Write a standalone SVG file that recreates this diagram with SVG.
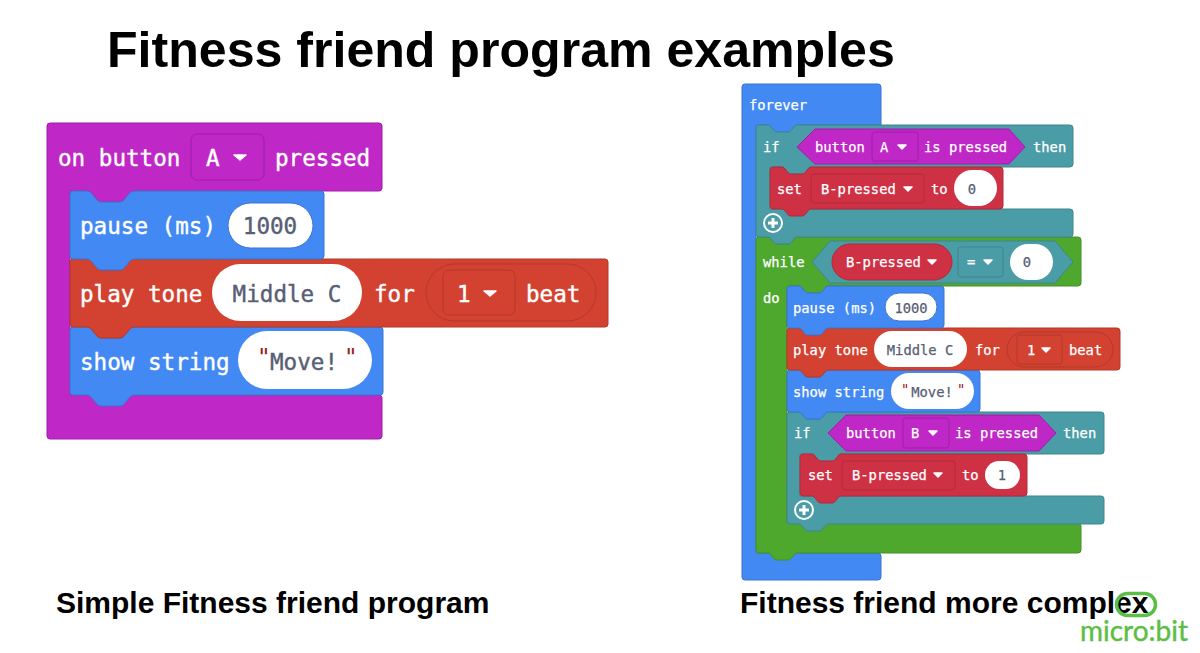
<svg xmlns="http://www.w3.org/2000/svg" width="1200" height="653" viewBox="0 0 1200 653">
<style>
.h{font-family:"Liberation Sans",Arial,sans-serif;font-weight:700;fill:#000}
.b text{font-family:"DejaVu Sans Mono",monospace;fill:#fff;stroke:#fff}
.big text{font-size:22.6px;stroke-width:.4}
.sm text{font-size:13.8px;stroke-width:.25}
.b text.v{fill:#575E75;stroke:#575E75;text-anchor:middle}
.b text.q{fill:#A31515;stroke:none}
.t{fill:#fff;stroke:#fff;stroke-linejoin:round;stroke-width:1.5}
.b path,.b rect,.b polygon{stroke-linejoin:round}
.pur{fill:#BF27C7;stroke:#A01FA8}
.blu{fill:#4389F4;stroke:#3A74CF}
.ora{fill:#D34230;stroke:#B33828}
.tea{fill:#4A9DA6;stroke:#3F858D}
.gre{fill:#4FA82E;stroke:#439027}
.red{fill:#CF3144;stroke:#B02A3A}
.pill{fill:#fff}
</style>
<rect width="1200" height="653" fill="#fff"/>
<text class="h" x="107" y="67" font-size="50.1">Fitness friend program examples</text>
<g id="left-program" class="b big">
<g id="hat-on-button">
<path class="pur" d="M50 123H379q3 0 3 3V188q0 3-3 3H134q-3 0-5 3l-4 5q-2 3-5 3h-19q-3 0-5-3l-4-5q-2-3-5-3H70V395H379q3 0 3 3V436q0 3-3 3H50q-3 0-3-3V126q0-3 3-3Z"/>
<rect class="pur" x="191" y="134" width="73" height="46" rx="6" style="stroke:#9C1FA4"/>
<text x="58" y="166">on button</text><text x="206" y="166">A</text>
<path class="t" d="M234 155h12l-6 5z"/><text x="275" y="166">pressed</text>
</g>
<g id="show-string">
<path class="blu" d="M73 327H87q3 0 5 3l4 5q2 3 5 3h19q3 0 5-3l4-5q2-3 5-3H380q3 0 3 3V392q0 3-3 3H134q-3 0-5 3l-4 5q-2 3-5 3h-19q-3 0-5-3l-4-5q-2-3-5-3H73q-3 0-3-3V330q0-3 3-3Z"/>
<rect class="pill" x="238" y="331" width="134" height="58" rx="29"/>
<text x="80" y="370">show string</text>
<text class="q" x="257" y="365" font-size="14">"</text>
<text class="v" x="304" y="370">Move!</text>
<text class="q" x="344" y="365" font-size="14">"</text>
</g>
<g id="play-tone">
<path class="ora" d="M73 259H87q3 0 5 3l4 5q2 3 5 3h19q3 0 5-3l4-5q2-3 5-3H605q3 0 3 3V324q0 3-3 3H134q-3 0-5 3l-4 5q-2 3-5 3h-19q-3 0-5-3l-4-5q-2-3-5-3H73q-3 0-3-3V262q0-3 3-3Z"/>
<rect class="pill" x="212" y="264" width="150" height="57" rx="28.5"/>
<rect x="426" y="264" width="170" height="57" rx="28.5" fill="none" stroke="#B33828"/>
<rect x="443" y="270" width="72" height="45" rx="6" fill="none" stroke="#B33828"/>
<text x="80" y="302">play tone</text><text class="v" x="287" y="302">Middle C</text>
<text x="374" y="302">for</text><text x="457" y="302">1</text>
<path class="t" d="M484 291h12l-6 5z"/><text x="526" y="302">beat</text>
</g>
<g id="pause">
<path class="blu" d="M73 191H87q3 0 5 3l4 5q2 3 5 3h19q3 0 5-3l4-5q2-3 5-3H321q3 0 3 3V256q0 3-3 3H134q-3 0-5 3l-4 5q-2 3-5 3h-19q-3 0-5-3l-4-5q-2-3-5-3H73q-3 0-3-3V194q0-3 3-3Z"/>
<rect class="pill" x="228" y="203" width="85" height="45" rx="22.5" stroke="#3A74CF"/>
<text x="80" y="234">pause (ms)</text><text class="v" x="270" y="234">1000</text>
</g>
</g>
<g id="right-program" class="b sm">
<g id="forever">
<path class="blu" d="M745 84H878q3 0 3 3V125H797q-2 0-3 2l-2.5 3q-1.5 2-3 2h-12q-2 0-3-2l-2.5-3q-1-2-3-2H756V553H878q3 0 3 3V577q0 3-3 3H745q-3 0-3-3V87q0-3 3-3Z"/>
<text x="749" y="110">forever</text>
</g>
<g id="while">
<path class="gre" d="M759 237H768q2 0 3 2l2.5 3q1.500 2 3 2h12q2 0 3-2l2.500-3q1-2 3-2H1078q3 0 3 3V283q0 3-3 3H828q-2 0-3 2l-2.500 3q-1.500 2-3 2h-12q-2 0-3-2l-2.500-3q-1-2-3-2H787V523H1078q3 0 3 3V550q0 3-3 3H797q-2 0-3 2l-2.500 3q-1.500 2-3 2h-12q-2 0-3-2l-2.500-3q-1-2-3-2H759q-3 0-3-3V240q0-3 3-3Z"/>
<polygon class="tea" points="812,262 830,241 1055,241 1073,262 1055,283 830,283"/>
<rect class="red" x="832" y="244" width="120" height="36" rx="18"/>
<rect class="tea" x="958" y="247" width="45" height="30" rx="3"/>
<rect class="pill" x="1010" y="244" width="43" height="36" rx="18"/>
<text x="763" y="267">while</text><text x="846" y="267">B-pressed</text>
<path class="t" d="M928 260h8l-4 4z"/>
<text x="967" y="267">=</text><path class="t" d="M984 260h8l-4 4z"/>
<text class="v" x="1027" y="267">0</text>
<text x="763" y="303">do</text>
</g>
<g id="if-b">
<path class="tea" d="M790 412H799q2 0 3 2l2.500 3q1.500 2 3 2h12q2 0 3-2l2.500-3q1-2 3-2H1101q3 0 3 3V451q0 3-3 3H841q-2 0-3 2l-2.500 3q-1.500 2-3 2h-12q-2 0-3-2l-2.500-3q-1-2-3-2H800V496H1101q3 0 3 3V521q0 3-3 3H828q-2 0-3 2l-2.500 3q-1.500 2-3 2h-12q-2 0-3-2l-2.500-3q-1-2-3-2H790q-3 0-3-3V415q0-3 3-3Z"/>
<polygon class="pur" points="828,433 846,415 1039,415 1056,433 1039,451 846,451"/>
<rect class="pur" x="903" y="418" width="46" height="30" rx="3"/>
<text x="794" y="438">if</text><text x="846" y="438">button</text><text x="911" y="438">B</text>
<path class="t" d="M929 431h8l-4 4z"/><text x="955" y="438">is pressed</text><text x="1063" y="438">then</text>
<circle cx="804" cy="510" r="9" fill="none" stroke="#fff" stroke-width="2"/>
<path d="M804 505v10M799 510h10" stroke="#fff" stroke-width="3" fill="none"/>
</g>
<g id="set-b">
<path class="red" d="M803 454H812q2 0 3 2l2.500 3q1.500 2 3 2h12q2 0 3-2l2.500-3q1-2 3-2H1024q3 0 3 3V493q0 3-3 3H841q-2 0-3 2l-2.500 3q-1.500 2-3 2h-12q-2 0-3-2l-2.500-3q-1-2-3-2H803q-3 0-3-3V457q0-3 3-3Z"/>
<rect class="red" x="842" y="461" width="113" height="29" rx="3"/>
<rect class="pill" x="985" y="461" width="35" height="28" rx="14"/>
<text x="808" y="480">set</text><text x="852" y="480">B-pressed</text>
<path class="t" d="M934 473h8l-4 4z"/><text x="962" y="480">to</text><text class="v" x="1002" y="480">1</text>
</g>
<g id="show-string-2">
<path class="blu" d="M790 370H799q2 0 3 2l2.500 3q1.500 2 3 2h12q2 0 3-2l2.500-3q1-2 3-2H977q3 0 3 3V409q0 3-3 3H828q-2 0-3 2l-2.500 3q-1.500 2-3 2h-12q-2 0-3-2l-2.500-3q-1-2-3-2H790q-3 0-3-3V373q0-3 3-3Z"/>
<rect class="pill" x="891" y="373" width="83" height="36" rx="18"/>
<text x="793" y="397">show string</text>
<text class="q" x="901" y="394" font-size="9">"</text>
<text class="v" x="932" y="397">Move!</text>
<text class="q" x="957" y="394" font-size="9">"</text>
</g>
<g id="play-tone-2">
<path class="ora" d="M790 328H799q2 0 3 2l2.500 3q1.500 2 3 2h12q2 0 3-2l2.500-3q1-2 3-2H1117q3 0 3 3V367q0 3-3 3H828q-2 0-3 2l-2.500 3q-1.500 2-3 2h-12q-2 0-3-2l-2.500-3q-1-2-3-2H790q-3 0-3-3V331q0-3 3-3Z"/>
<rect class="pill" x="874" y="331" width="93" height="36" rx="18"/>
<rect x="1007" y="332" width="106" height="35" rx="17.500" fill="none" stroke="#B33828"/>
<rect x="1017" y="335" width="45" height="29" rx="3" fill="none" stroke="#B33828"/>
<text x="793" y="355">play tone</text><text class="v" x="920" y="355">Middle C</text>
<text x="975" y="355">for</text><text x="1027" y="355">1</text>
<path class="t" d="M1042 348h8l-4 4z"/><text x="1069" y="355">beat</text>
</g>
<g id="pause-2">
<path class="blu" d="M790 286H799q2 0 3 2l2.500 3q1.500 2 3 2h12q2 0 3-2l2.500-3q1-2 3-2H941q3 0 3 3V325q0 3-3 3H828q-2 0-3 2l-2.500 3q-1.500 2-3 2h-12q-2 0-3-2l-2.500-3q-1-2-3-2H790q-3 0-3-3V289q0-3 3-3Z"/>
<rect class="pill" x="885" y="293" width="52" height="28" rx="14" stroke="#3A74CF"/>
<text x="793" y="313">pause (ms)</text><text class="v" x="911" y="313">1000</text>
</g>
<g id="if-a">
<path class="tea" d="M759 125H768q2 0 3 2l2.500 3q1.500 2 3 2h12q2 0 3-2l2.500-3q1-2 3-2H1070q3 0 3 3V164q0 3-3 3H811q-2 0-3 2l-2.500 3q-1.500 2-3 2h-12q-2 0-3-2l-2.500-3q-1-2-3-2H770V209H1070q3 0 3 3V234q0 3-3 3H797q-2 0-3 2l-2.500 3q-1.500 2-3 2h-12q-2 0-3-2l-2.500-3q-1-2-3-2H759q-3 0-3-3V128q0-3 3-3Z"/>
<polygon class="pur" points="797,147 815,129 1009,129 1025,147 1009,164 815,164"/>
<rect class="pur" x="872" y="132" width="46" height="29" rx="3"/>
<text x="763" y="152">if</text><text x="815" y="152">button</text><text x="880" y="152">A</text>
<path class="t" d="M898 145h8l-4 4z"/><text x="924" y="152">is pressed</text><text x="1033" y="152">then</text>
<circle cx="773" cy="223" r="9" fill="none" stroke="#fff" stroke-width="2"/>
<path d="M773 218v10M768 223h10" stroke="#fff" stroke-width="3" fill="none"/>
</g>
<g id="set-a">
<path class="red" d="M773 167H782q2 0 3 2l2.500 3q1.500 2 3 2h12q2 0 3-2l2.500-3q1-2 3-2H1000q3 0 3 3V206q0 3-3 3H811q-2 0-3 2l-2.500 3q-1.500 2-3 2h-12q-2 0-3-2l-2.500-3q-1-2-3-2H773q-3 0-3-3V170q0-3 3-3Z"/>
<rect class="red" x="811" y="174" width="113" height="29" rx="3"/>
<rect class="pill" x="954" y="170" width="43" height="36" rx="18"/>
<text x="777" y="194">set</text><text x="821" y="194">B-pressed</text>
<path class="t" d="M904 187h8l-4 4z"/><text x="931" y="194">to</text><text class="v" x="972" y="194">0</text>
</g>
</g>
<text class="h" x="56" y="613" font-size="30">Simple Fitness friend program</text>
<text class="h" x="740" y="613" font-size="30">Fitness friend more complex</text>
<g id="microbit-logo">
<rect x="1116.500" y="593.500" width="39" height="22" rx="11" fill="none" stroke="#5DBE45" stroke-width="3.500"/>
<text x="1080" y="641" font-family="Lato,'Open Sans',sans-serif" font-size="28" fill="#5DBE45" stroke="#5DBE45" stroke-width=".4">micro:bit</text>
</g>
</svg>
